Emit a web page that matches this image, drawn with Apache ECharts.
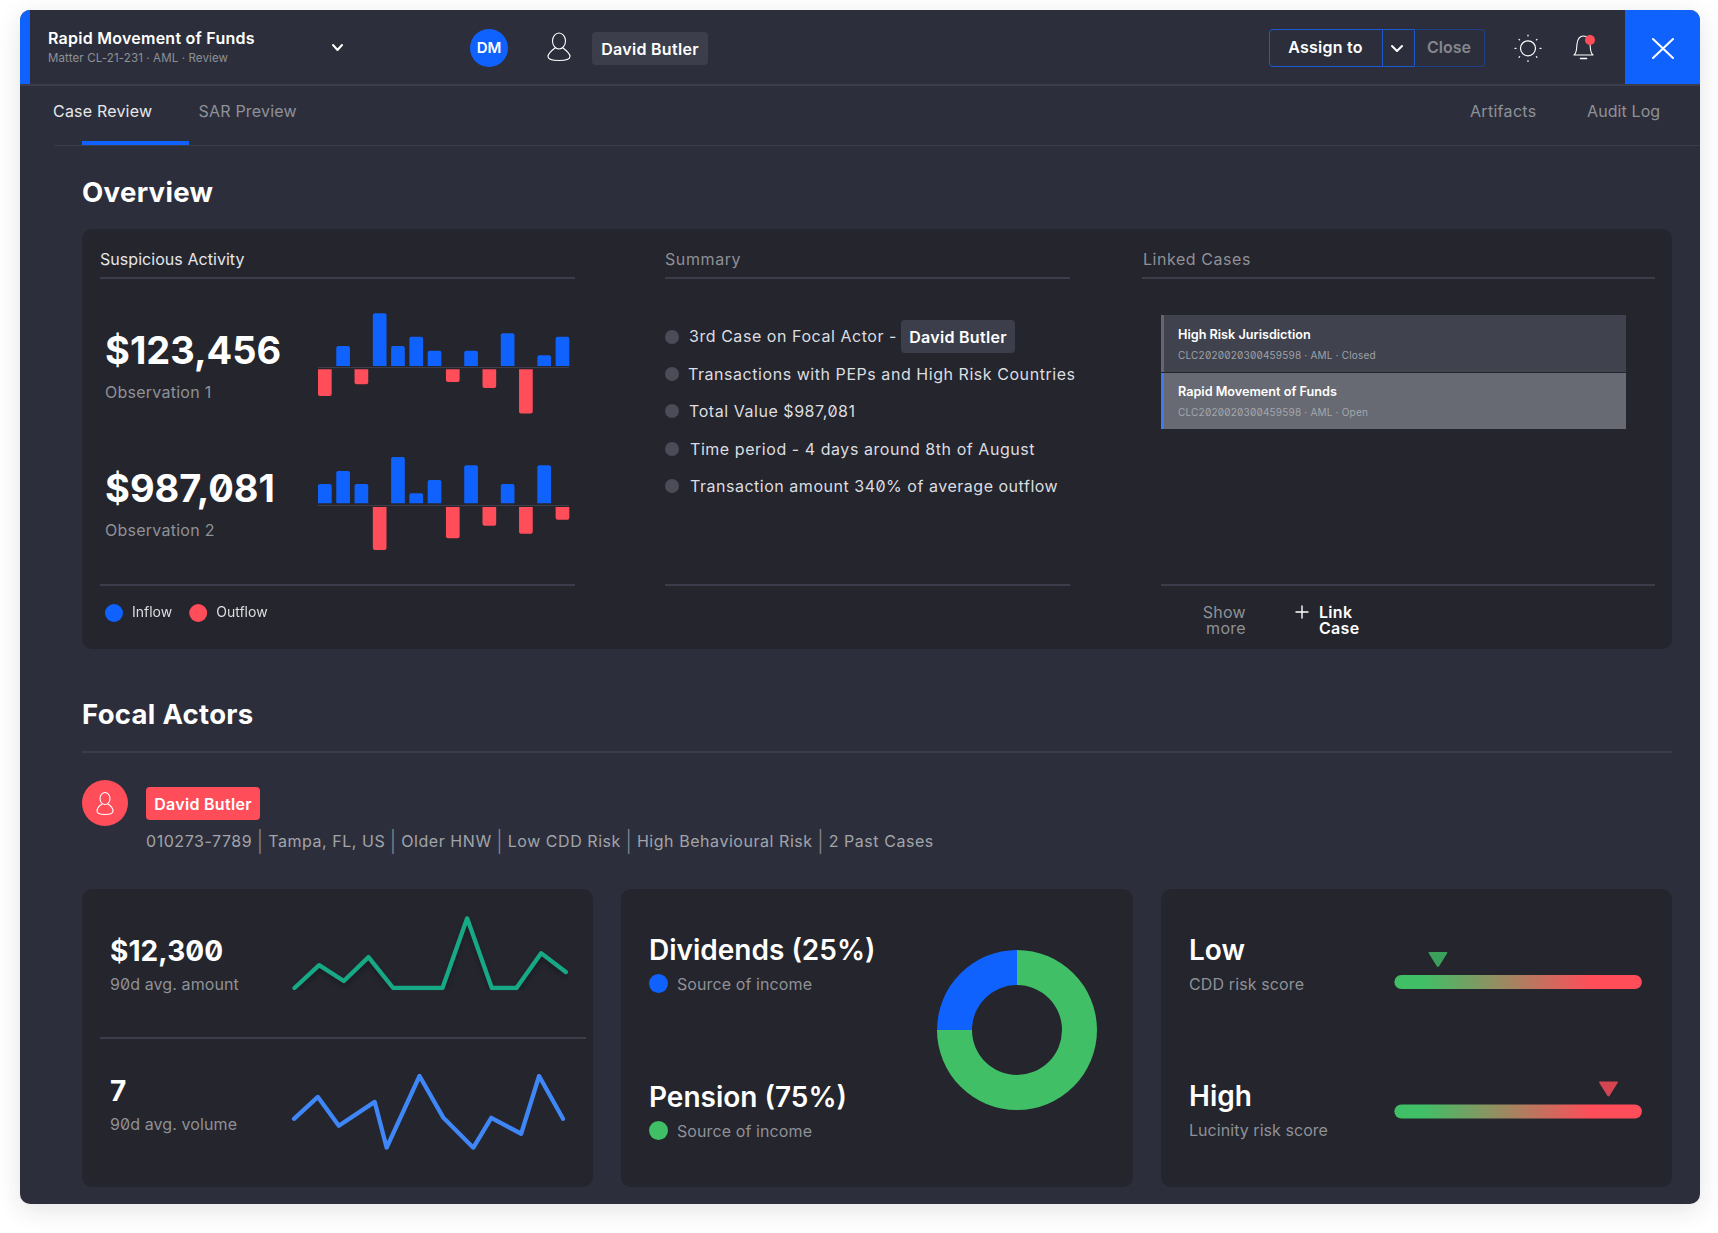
<!DOCTYPE html>
<html>
<head>
<meta charset="utf-8">
<title>Case Review</title>
<script src="https://cdn.jsdelivr.net/npm/echarts@6/dist/echarts.min.js"></script>
<style>
html,body{margin:0;padding:0;background:#fff;width:1718px;height:1233px;overflow:hidden}
body{font-family:Inter,"Noto Sans",sans-serif;font-feature-settings:"zero";color:#fff;position:relative}
#frame{position:absolute;left:20px;top:10px;width:1680px;height:1194px;background:#2c2f3b;border-radius:10px;overflow:hidden;box-shadow:0 6px 24px rgba(30,35,50,.12)}
.box{position:absolute}
.t{position:absolute;white-space:nowrap;transform:translateY(calc(-50% + 1px));line-height:1.1;letter-spacing:.3px}
.g{color:#8f9197}
.b{font-weight:600;letter-spacing:0}
.line{position:absolute;height:1.5px;background:#3b3e4a}
.panel{position:absolute;background:#24252d;border-radius:10px}
.pill{position:absolute;background:#3c3f4b;border-radius:4px;font-weight:600;font-size:16px;letter-spacing:.3px;display:flex;align-items:center;justify-content:center}
.dot{position:absolute;border-radius:50%}
.sum{font-size:16px;color:#dcdde0;letter-spacing:.55px}
.sep{display:inline-block;transform:scaleY(1.3);color:#85878e}
svg{position:absolute;overflow:visible;fill:none;stroke:#fff;stroke-linecap:round;stroke-linejoin:round}
#chart{position:absolute;left:0;top:0;width:1718px;height:1233px;pointer-events:none}
</style>
</head>
<body>
<div id="frame"></div>
<div class="box" style="left:20px;top:10px;width:10px;height:74px;background:#1062fe;border-top-left-radius:10px"></div>
<div class="box" style="left:1625px;top:10px;width:75px;height:74px;background:#1062fe;border-top-right-radius:10px"></div>
<div class="line" style="left:20px;top:84px;width:1680px"></div>
<div class="line" style="left:54px;top:144.5px;width:1646px"></div>
<div class="box" style="left:82px;top:141px;width:107px;height:4px;background:#1062fe"></div>

<!-- header -->
<div class="t b" style="left:48px;top:38px;font-size:16px;letter-spacing:.25px">Rapid Movement of Funds</div>
<div class="t g" style="left:48px;top:56.5px;font-size:11.5px;letter-spacing:.13px">Matter CL-21-231 · AML · Review</div>
<svg style="left:332px;top:44px" width="11" height="7" stroke-width="2"><path d="M1 1L5.5 6L10 1"/></svg>
<div class="dot" style="left:470px;top:29px;width:38px;height:38px;background:#1062fe"></div>
<div class="t b" style="left:470px;top:47px;width:38px;text-align:center;font-size:15px">DM</div>
<svg style="left:547px;top:33px" width="24" height="28" stroke-width="1.1"><ellipse cx="12" cy="8" rx="6.5" ry="8"/><path d="M8 15C4 18 1 21 1 23.5C1 26.5 5 27.5 12 27.5C19 27.5 23 26.5 23 23.5C23 21 20 18 16 15"/></svg>
<div class="pill" style="left:592px;top:32px;width:116px;height:33px">David Butler</div>

<div class="box" style="left:1269px;top:29px;width:112px;height:36px;border:1.5px solid #1a5bd0;border-radius:4px 0 0 4px;box-sizing:content-box"></div>
<div class="box" style="left:1381px;top:29px;width:33px;height:36px;border:1.5px solid #1a5bd0;border-left:0;box-sizing:content-box"></div>
<div class="box" style="left:1414px;top:29px;width:70px;height:36px;border:1.5px solid #1c3f85;border-left:0;border-radius:0 4px 4px 0;box-sizing:content-box"></div>
<div class="t b" style="left:1269px;top:47px;width:113px;text-align:center;font-size:16px;letter-spacing:.25px">Assign to</div>
<svg style="left:1391px;top:45px" width="12" height="7" stroke-width="2"><path d="M1 1L6 6L11 1"/></svg>
<div class="t b" style="left:1414px;top:47px;width:70px;text-align:center;font-size:16px;color:#85878e">Close</div>
<svg style="left:1513px;top:33px" width="30" height="30" stroke-width="1.2" stroke="#d8d9dc"><circle cx="15" cy="15.3" r="7.5"/><path d="M15 2V3M15 27.5V28.5M2 15.3H3M27 15.3H28M6 6.3L6.6 6.9M23.4 23.7L24 24.3M6 24.3L6.6 23.7M23.4 6.9L24 6.3"/></svg>
<svg style="left:1573px;top:35px" width="22" height="26" stroke-width="1.1" stroke="#d8d9dc"><path d="M1 20C4 18 3.5 13 4 9C4.6 4 7 1 10.5 1C14 1 16.4 4 17 9C17.5 13 17 18 20 20Z"/><path d="M7.5 23.5H13.5" stroke-width="1.6"/></svg>
<div class="dot" style="left:1585px;top:35px;width:10px;height:10px;background:#ff4d5a"></div>
<svg style="left:1652px;top:38px" width="22" height="21" stroke-width="2"><path d="M1 1L21 20M21 1L1 20"/></svg>

<!-- tabs -->
<div class="t" style="left:53px;top:110.5px;font-size:16px;color:#e6e7ea;letter-spacing:.2px">Case Review</div>
<div class="t g" style="left:198.5px;top:110.5px;font-size:16px;letter-spacing:.2px">SAR Preview</div>
<div class="t g" style="left:1470px;top:110.5px;font-size:16px">Artifacts</div>
<div class="t g" style="left:1587px;top:110.5px;font-size:16px;letter-spacing:.1px">Audit Log</div>

<!-- overview -->
<div class="t" style="left:82px;top:191px;font-size:27.6px;font-weight:700">Overview</div>
<div class="panel" style="left:82px;top:229px;width:1590px;height:420px"></div>
<div class="t" style="left:100px;top:259px;font-size:16px;color:#e6e7ea;letter-spacing:.05px">Suspicious Activity</div>
<div class="t g" style="left:665px;top:259px;font-size:16px;letter-spacing:.6px">Summary</div>
<div class="t g" style="left:1143px;top:259px;font-size:16px;letter-spacing:.55px">Linked Cases</div>
<div class="line" style="left:100px;top:277px;width:475px"></div>
<div class="line" style="left:665px;top:277px;width:405px"></div>
<div class="line" style="left:1142px;top:277px;width:513px"></div>
<div class="line" style="left:100px;top:584px;width:475px"></div>
<div class="line" style="left:665px;top:584px;width:405px"></div>
<div class="line" style="left:1161px;top:584px;width:494px"></div>

<div class="t" style="left:105px;top:350px;font-size:38px;font-weight:700;letter-spacing:0">$123,456</div>
<div class="t g" style="left:105px;top:392px;font-size:16px;letter-spacing:.25px">Observation 1</div>
<div class="t" style="left:105px;top:488px;font-size:38px;font-weight:700;letter-spacing:0">$987,081</div>
<div class="t g" style="left:105px;top:530px;font-size:16px;letter-spacing:.25px">Observation 2</div>
<div class="line" style="left:318px;top:366.5px;width:251px"></div>
<div class="line" style="left:318px;top:504.5px;width:251px"></div>

<!-- summary -->
<div class="dot" style="left:665px;top:330px;width:14px;height:14px;background:#4a4c58"></div>
<div class="dot" style="left:665px;top:367px;width:14px;height:14px;background:#4a4c58"></div>
<div class="dot" style="left:665px;top:404px;width:14px;height:14px;background:#4a4c58"></div>
<div class="dot" style="left:665px;top:442px;width:14px;height:14px;background:#4a4c58"></div>
<div class="dot" style="left:665px;top:479px;width:14px;height:14px;background:#4a4c58"></div>
<div class="t sum" style="left:689px;top:336px">3rd Case on Focal Actor -</div>
<div class="pill" style="left:901px;top:320px;width:114px;height:33px">David Butler</div>
<div class="t sum" style="left:688px;top:374px">Transactions with PEPs and High Risk Countries</div>
<div class="t sum" style="left:689px;top:411px">Total Value $987,081</div>
<div class="t sum" style="left:690px;top:449px">Time period - 4 days around 8th of August</div>
<div class="t sum" style="left:690px;top:486px;letter-spacing:.52px">Transaction amount 340% of average outflow</div>

<!-- linked cases -->
<div class="box" style="left:1161px;top:315px;width:465px;height:57px;background:#40434e;border-left:3px solid #63656f;box-sizing:border-box"></div>
<div class="box" style="left:1161px;top:373px;width:465px;height:56px;background:#676a73;border-left:3px solid #3e7bf0;box-sizing:border-box"></div>
<div class="t b" style="left:1178px;top:334px;font-size:12.65px">High Risk Jurisdiction</div>
<div class="t" style="left:1178px;top:353.5px;font-size:10px;color:#9fa1a8;letter-spacing:.2px">CLC2020020300459598 · AML · Closed</div>
<div class="t b" style="left:1178px;top:391px;font-size:12.65px">Rapid Movement of Funds</div>
<div class="t" style="left:1178px;top:410.5px;font-size:10px;color:#a5a7ad;letter-spacing:.2px">CLC2020020300459598 · AML · Open</div>
<div class="t g" style="left:1146px;width:100px;text-align:right;top:612px;font-size:16px">Show</div>
<div class="t g" style="left:1146px;width:100px;text-align:right;top:628px;font-size:16px">more</div>
<svg style="left:1296px;top:606px" width="12" height="12" stroke-width="1.4"><path d="M6 0V12M0 6H12"/></svg>
<div class="t b" style="left:1319px;top:612px;font-size:16px;letter-spacing:.3px">Link</div>
<div class="t b" style="left:1319px;top:628px;font-size:16px;letter-spacing:.3px">Case</div>

<!-- focal actors -->
<div class="t" style="left:82px;top:713px;font-size:27.5px;font-weight:700">Focal Actors</div>
<div class="line" style="left:82px;top:751px;width:1590px"></div>
<div class="dot" style="left:82px;top:780px;width:46px;height:46px;background:#ff4d5a"></div>
<svg style="left:96px;top:792px" width="18" height="23" stroke-width="1.1"><ellipse cx="9" cy="6.5" rx="5" ry="6"/><path d="M6 12C3 14 1 16 1 19C1 21.5 4 22.5 9 22.5C14 22.5 17 21.5 17 19C17 16 15 14 12 12"/></svg>
<div class="pill" style="left:146px;top:787px;width:114px;height:33px;background:#ff4d5a">David Butler</div>
<div class="t" style="left:146px;top:841px;font-size:16px;color:#a2a4aa;letter-spacing:.55px;font-feature-settings:normal">010273-7789 <span class="sep">|</span> Tampa, FL, US <span class="sep">|</span> Older HNW <span class="sep">|</span> Low CDD Risk <span class="sep">|</span> High Behavioural Risk <span class="sep">|</span> 2 Past Cases</div>

<div class="panel" style="left:82px;top:889px;width:511px;height:298px"></div>
<div class="panel" style="left:621px;top:889px;width:512px;height:298px"></div>
<div class="panel" style="left:1161px;top:889px;width:511px;height:298px"></div>

<div class="t" style="left:110px;top:950px;font-size:28px;font-weight:700;letter-spacing:.1px">$12,300</div>
<div class="t g" style="left:110px;top:983.5px;font-size:16px;letter-spacing:.1px">90d avg. amount</div>
<div class="line" style="left:100px;top:1037px;width:486px"></div>
<div class="t" style="left:110px;top:1090px;font-size:28px;font-weight:700;letter-spacing:0">7</div>
<div class="t g" style="left:110px;top:1123.5px;font-size:16px;letter-spacing:.1px">90d avg. volume</div>

<div class="t b" style="left:649px;top:948.5px;font-size:28px">Dividends (25%)</div>
<div class="dot" style="left:649px;top:974px;width:19px;height:19px;background:#1062fe"></div>
<div class="t g" style="left:677px;top:983.5px;font-size:16px;letter-spacing:.1px">Source of income</div>
<div class="t b" style="left:649px;top:1095.5px;font-size:28px">Pension (75%)</div>
<div class="dot" style="left:649px;top:1121px;width:19px;height:19px;background:#41bf66"></div>
<div class="t g" style="left:677px;top:1130.5px;font-size:16px;letter-spacing:.1px">Source of income</div>

<div class="t b" style="left:1189px;top:948.5px;font-size:28px">Low</div>
<div class="t g" style="left:1189px;top:983.5px;font-size:16px;letter-spacing:.12px">CDD risk score</div>
<div class="t b" style="left:1189px;top:1094.5px;font-size:28px">High</div>
<div class="t g" style="left:1189px;top:1129.5px;font-size:16px;letter-spacing:.05px">Lucinity risk score</div>

<div id="chart"></div>

<script>
var days = ['1','2','3','4','5','6','7','8','9','10','11','12','13','14'];

// bar heights, null = no bar that day
var obs1Inflow  = [null, 60, null, 158, 60, 88, 46, null, 46, null, 98, null, 32, 88];
var obs1Outflow = [80, null, 45, null, null, null, null, 38, null, 56, null, 133, null, null];
var obs2Inflow  = [58, 97, 58, null, 139, 30, 70, null, 114, null, 58, null, 114, null];
var obs2Outflow = [null, null, null, 129, null, null, null, 94, null, 56, null, 80, null, 38];

// 90 day sparklines
var amountDays   = ['1','2','3','4','5','6','7','8','9','10','11','12'];
var amountValues = [0, 23, 7, 31, 0, 0, 0, 70, 0, 0, 35, 16];
var volumeDays   = [0, 8, 15, 27, 31, 42, 50, 60, 66, 76, 82, 90];
var volumeValues = [29, 51, 22, 46, 0, 72, 30, 0, 30, 14, 72, 29];

var incomeNames  = ['Pension', 'Dividends'];
var incomeShares = [75, 25];

var riskScores = [17.6, 86.5];

var BLUE = '#1062fe', RED = '#ff4d5a', GREEN = '#41bf66';

var grids = [], xAxes = [], yAxes = [], series = [];

function addBars(name, values, color, top, height, max, down) {
    var i = grids.length;
    grids.push({left: 315.7, top: top, width: 255.9, height: height});
    xAxes.push({type: 'category', gridIndex: i, data: days, show: false});
    yAxes.push({type: 'value', gridIndex: i, min: 0, max: max, inverse: down, show: false});
    series.push({
        name: name, type: 'bar', xAxisIndex: i, yAxisIndex: i, data: values,
        barWidth: 13.7,
        itemStyle: {color: color, borderRadius: down ? [0, 0, 2, 2] : [2, 2, 0, 0]}
    });
}

addBars('Inflow', obs1Inflow, BLUE, 313.3, 52.7, 158, false);
addBars('Outflow', obs1Outflow, RED, 369.3, 44.3, 133, true);
addBars('Inflow', obs2Inflow, BLUE, 457, 46.3, 139, false);
addBars('Outflow', obs2Outflow, RED, 507, 43, 129, true);

// amount sparkline
var n = grids.length;
grids.push({left: 294.5, top: 918.3, width: 271.3, height: 69.7});
xAxes.push({type: 'category', gridIndex: n, data: amountDays, boundaryGap: false, show: false});
yAxes.push({type: 'value', gridIndex: n, min: 0, max: 70, show: false});
series.push({
    type: 'line', xAxisIndex: n, yAxisIndex: n, data: amountValues, showSymbol: false,
    lineStyle: {color: '#17a985', width: 4.3, cap: 'round', join: 'round', shadowColor: 'rgba(0,0,0,.22)', shadowBlur: 5, shadowOffsetY: 4}
});

// volume sparkline
n = grids.length;
grids.push({left: 294, top: 1076, width: 269, height: 71.7});
xAxes.push({type: 'value', gridIndex: n, min: 0, max: 90, show: false});
yAxes.push({type: 'value', gridIndex: n, min: 0, max: 72, show: false});
series.push({
    type: 'line', xAxisIndex: n, yAxisIndex: n, showSymbol: false,
    data: volumeDays.map(function (d, i) { return [d, volumeValues[i]]; }),
    lineStyle: {color: '#3f86f7', width: 4.3, cap: 'round', join: 'round'}
});

// risk scales
function addRisk(score, color, top) {
    var i = grids.length;
    grids.push({left: 1394.4, top: top, width: 247.5, height: 14});
    xAxes.push({type: 'value', gridIndex: i, min: 0, max: 100, show: false});
    yAxes.push({type: 'category', gridIndex: i, data: ['risk'], show: false});
    series.push({
        type: 'bar', xAxisIndex: i, yAxisIndex: i, data: [100], barWidth: 14,
        itemStyle: {
            borderRadius: 7,
            color: new echarts.graphic.LinearGradient(0, 0, 1, 0, [
                {offset: 0.12, color: GREEN},
                {offset: 0.8, color: RED}
            ])
        }
    });
    series.push({
        type: 'scatter', xAxisIndex: i, yAxisIndex: i,
        data: [[score, 'risk']],
        symbol: 'path://M1 0H19Q20.5 0 19.5 1.5L11 15Q10 16 9 15L0.5 1.5Q-0.5 0 1 0Z',
        symbolSize: [19, 15], symbolOffset: [0, -22.5],
        itemStyle: {color: color}
    });
}
addRisk(riskScores[0], GREEN, 975);
addRisk(riskScores[1], RED, 1104.5);

// income donut
series.push({
    type: 'pie', center: [1017, 1030], radius: [45, 80], startAngle: 90,
    label: {show: false}, labelLine: {show: false}, silent: true,
    data: incomeNames.map(function (name, i) {
        return {name: name, value: incomeShares[i], itemStyle: {color: name == 'Pension' ? GREEN : BLUE}};
    })
});

var myChart = echarts.init(document.getElementById('chart'));
myChart.setOption({
    animation: false,
    legend: {
        data: ['Inflow', 'Outflow'], left: 105, top: 604, padding: 0, itemWidth: 18, itemHeight: 18, itemGap: 17,
        icon: 'circle', selectedMode: false,
        textStyle: {color: '#dcdde0', fontSize: 14, fontFamily: 'Inter', padding: [0, 0, 0, 4]}
    },
    grid: grids,
    xAxis: xAxes,
    yAxis: yAxes,
    series: series
});
</script>
</body>
</html>
